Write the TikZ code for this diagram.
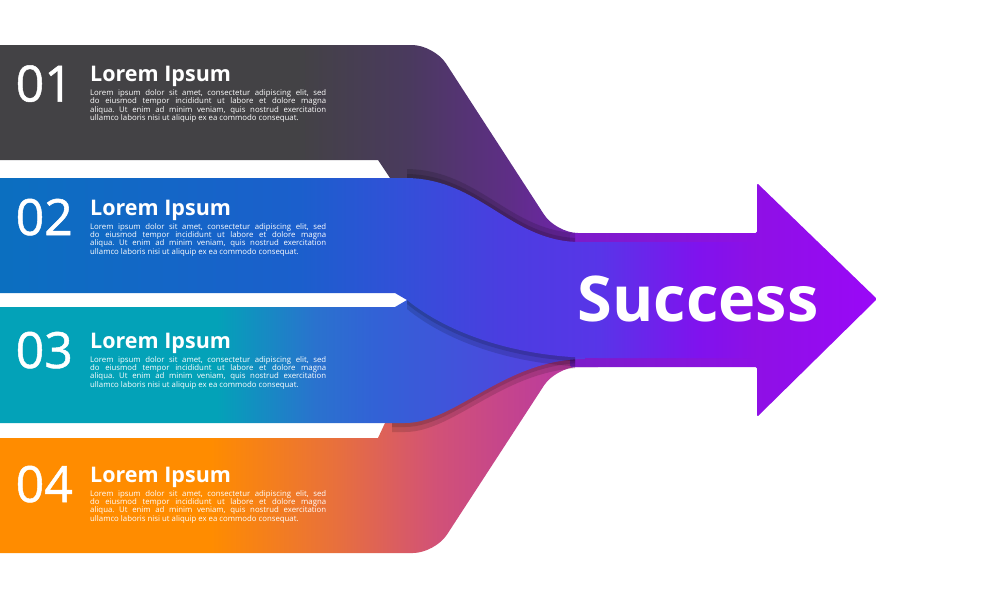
\documentclass[tikz,border=0pt]{standalone}
\usepackage{fontspec}
\setmainfont{Open Sans}
\newfontfamily\numfont{Open Sans}[FakeBold=1]
\usetikzlibrary{positioning}

\definecolor{bandgray}{HTML}{434245}
\definecolor{bandplumA}{HTML}{4A3A5E}
\definecolor{bandplumB}{HTML}{5E2E86}
\definecolor{bandplum}{HTML}{7C1CC8}
\definecolor{bandblue}{HTML}{0B6FC0}
\definecolor{bandblueA}{HTML}{1B5FCC}
\definecolor{bandblueB}{HTML}{3250D8}
\definecolor{bandblueC}{HTML}{4A3EE0}
\definecolor{bandblueD}{HTML}{5835E8}
\definecolor{bandblueE}{HTML}{8012EE}
\definecolor{bandviolet}{HTML}{8E10E5}
\definecolor{bandteal}{HTML}{03A2B8}
\definecolor{bandtealA}{HTML}{2A72CE}
\definecolor{bandtealB}{HTML}{3262D6}
\definecolor{bandindigo}{HTML}{5A3AE2}
\definecolor{bandorange}{HTML}{FF8C00}
\definecolor{bandcoral}{HTML}{E8703C}
\definecolor{bandrose}{HTML}{D25276}
\definecolor{bandmagenta}{HTML}{B030B0}
\definecolor{arrowtip}{HTML}{9A08F8}

\pgfdeclarehorizontalshading{bandone}{100bp}{color(0bp)=(bandgray); color(25bp)=(bandgray); color(49bp)=(bandgray); color(58bp)=(bandplumA); color(66bp)=(bandplumB); color(75bp)=(bandplum); color(100bp)=(bandplum)}
\pgfdeclarehorizontalshading{bandtwo}{100bp}{color(0bp)=(bandblue); color(25bp)=(bandblue); color(44.8bp)=(bandblueA); color(51.4bp)=(bandblueB); color(58bp)=(bandblueC); color(64.6bp)=(bandblueD); color(71.2bp)=(bandblueE); color(75bp)=(bandviolet); color(100bp)=(bandviolet)}
\pgfdeclarehorizontalshading{bandthree}{100bp}{color(0bp)=(bandteal); color(25bp)=(bandteal); color(43.5bp)=(bandteal); color(52bp)=(bandtealA); color(57bp)=(bandtealB); color(75bp)=(bandindigo); color(100bp)=(bandindigo)}
\pgfdeclarehorizontalshading{bandfour}{100bp}{color(0bp)=(bandorange); color(25bp)=(bandorange); color(42bp)=(bandorange); color(52bp)=(bandcoral); color(60bp)=(bandrose); color(75bp)=(bandmagenta); color(100bp)=(bandmagenta)}

\newcommand{\pathtwo}{(0,178) -- (405,178) .. controls (480,178) and (510,242) .. (580,242) -- (757,242) -- (757,358) -- (600,358) .. controls (520,358) and (450,335) .. (407,300) -- (395,293) -- (0,293) -- cycle}
\newcommand{\paththree}{(0,307) -- (395,307) -- (407,300) -- (585,300) -- (585,359) .. controls (505,359) and (455,423) .. (405,423) -- (0,423) -- cycle}
\newcommand{\loremtext}{Lorem ipsum dolor sit amet, consectetur adipiscing elit, sed\linebreak do eiusmod tempor incididunt ut labore et dolore magna\linebreak aliqua. Ut enim ad minim veniam, quis nostrud exercitation\linebreak ullamco laboris nisi ut aliquip ex ea commodo consequat.}

\begin{document}
\frenchspacing
\begin{tikzpicture}[x=1pt,y=-1pt,num/.style={anchor=base west, inner sep=0, text=white, font=\numfont\fontsize{50}{50}\selectfont},title/.style={anchor=base west, inner sep=0, text=white, font=\bfseries\fontsize{21.5}{21.5}\selectfont},body/.style={inner sep=0, text=white, text width=236pt, align=justify, font=\fontsize{7.8}{8.4}\selectfont},bandshadow/.style={fill=black, opacity=.14}]
\useasboundingbox (0,0) rectangle (1000,600);
% back bands
\shade[shading=bandone] (0,45) [rounded corners=22] -- (434,45) -- (556,233) -- (620,233) [sharp corners] -- (620,300) -- (390,178) -- (378,160) -- (0,160) -- cycle;
\shade[shading=bandfour] (0,553) [rounded corners=22] -- (435,553) -- (556,367) -- (620,367) [sharp corners] -- (620,300) -- (385,423) -- (378,438) -- (0,438) -- cycle;
% arrow
\shade[left color=bandplum, right color=arrowtip, rounded corners=1.5] (570,233) -- (757,233) -- (757,183) -- (877,299) -- (757,417) -- (757,367) -- (570,367) -- cycle;
% band 3
\begin{scope}
\clip (392,0) rectangle (575,600);
\fill[bandshadow, yshift=-4pt] \paththree;
\fill[bandshadow, yshift=-9pt] \paththree;
\end{scope}
\shade[shading=bandthree] \paththree;
% band 2
\begin{scope}
\clip (407,0) rectangle (575,600);
\fill[bandshadow, yshift=4pt] \pathtwo;
\fill[bandshadow, yshift=9pt] \pathtwo;
\fill[bandshadow, yshift=-4pt] \pathtwo;
\fill[bandshadow, yshift=-9pt] \pathtwo;
\end{scope}
\shade[shading=bandtwo] \pathtwo;
% texts
\foreach \i/\y in {1/81.5,2/215,3/348,4/482} {
  \node[num] (num\i) at (15.5,\y+20) {0\i};
  \node[title] (title\i) at (90,\y) {Lorem Ipsum};
  \node[body, below=14pt of title\i.base west, anchor=base west] (text\i) {\loremtext};
}
\node[anchor=base, inner sep=0, text=white, font=\bfseries\fontsize{63}{63}\selectfont] (success) at (698,321) {Success};
\end{tikzpicture}
\end{document}
